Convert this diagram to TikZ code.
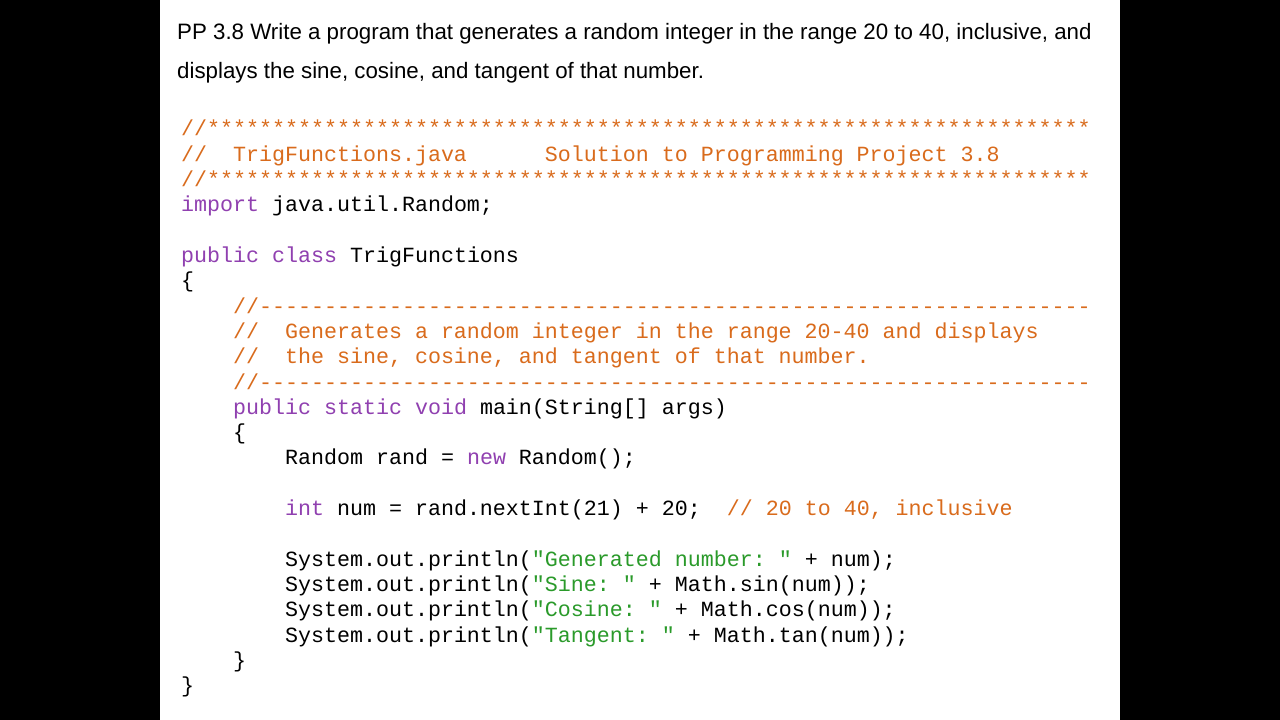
\documentclass[tikz,border=0pt]{standalone}
\usepackage{fontspec}
\setmainfont{Liberation Sans}
\newfontfamily\code{Liberation Mono}[WordSpace={1,0,0}]
\definecolor{cmt}{HTML}{D96B1C}
\definecolor{kw}{HTML}{9040B0}
\definecolor{str}{HTML}{2A9A2A}
\ExplSyntaxOn
\cs_new:Npn \myrep #1#2 {\prg_replicate:nn{#1}{#2}}
\ExplSyntaxOff
\tikzset{cl/.style={anchor=base west,inner sep=0pt,font=\code\fontsize{21.65}{25}\selectfont},
hd/.style={anchor=base west,inner sep=0pt,font=\fontsize{22.3}{27}\selectfont}}
\newcommand\K[1]{\textcolor{kw}{#1}}
\newcommand\C[1]{\textcolor{cmt}{#1}}
\newcommand\Q[1]{\textcolor{str}{#1}}
\begin{document}
\begin{tikzpicture}[x=1pt,y=-1pt]
\fill[black] (0,0) rectangle (1280,720);
\fill[white] (160,0) rectangle (1120,720);
\useasboundingbox (0,0) rectangle (1280,720);
\node[hd] (h1) at (177,39) {PP 3.8 Write a program that generates a random integer in the range 20 to 40, inclusive, and};
\node[hd] (h2) at (177,78) {displays the sine, cosine, and tangent of that number.};
\def\L#1#2#3{\node[cl] (#1) at (181,{135.7+25.33*#2}) {#3};}
\L{l0}{0}{\C{//\myrep{68}{*}}}
\L{l1}{1}{\C{//~~TrigFunctions.java~~~~~~Solution~to~Programming~Project~3.8}}
\L{l2}{2}{\C{//\myrep{68}{*}}}
\L{l3}{3}{\K{import} java.util.Random;}
\L{l5}{5}{\K{public}~\K{class}~TrigFunctions}
\L{l6}{6}{\{}
\L{l7}{7}{~~~~\C{//\myrep{64}{-}}}
\L{l8}{8}{~~~~\C{//~~Generates~a~random~integer~in~the~range~20-40~and~displays}}
\L{l9}{9}{~~~~\C{//~~the~sine,~cosine,~and~tangent~of~that~number.}}
\L{l10}{10}{~~~~\C{//\myrep{64}{-}}}
\L{l11}{11}{~~~~\K{public}~\K{static}~\K{void}~main(String[]~args)}
\L{l12}{12}{~~~~\{}
\L{l13}{13}{~~~~~~~~Random~rand~=~\K{new}~Random();}
\L{l15}{15}{~~~~~~~~\K{int}~num~=~rand.nextInt(21)~+~20;~~\C{//~20~to~40,~inclusive}}
\L{l17}{17}{~~~~~~~~System.out.println(\Q{"Generated~number:~"}~+~num);}
\L{l18}{18}{~~~~~~~~System.out.println(\Q{"Sine:~"}~+~Math.sin(num));}
\L{l19}{19}{~~~~~~~~System.out.println(\Q{"Cosine:~"}~+~Math.cos(num));}
\L{l20}{20}{~~~~~~~~System.out.println(\Q{"Tangent:~"}~+~Math.tan(num));}
\L{l21}{21}{~~~~\}}
\L{l22}{22}{\}}
\end{tikzpicture}
\end{document}
